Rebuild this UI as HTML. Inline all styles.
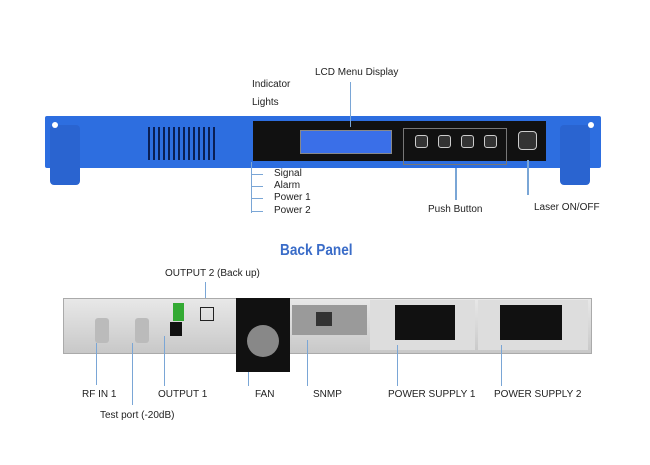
<!DOCTYPE html>
<html><head><style>
body{margin:0;width:650px;height:465px;background:#fff;position:relative;overflow:hidden;font-family:"Liberation Sans",sans-serif;}
.a{position:absolute;}
.t{position:absolute;font-size:10px;color:#222;white-space:nowrap;}
.l{position:absolute;background:#7aa6d6;}
</style></head><body>
<!-- front panel -->
<div class="a" style="left:45px;top:116px;width:556px;height:52px;background:#2d6ee0;border-radius:2px;"></div>
<div class="a" style="left:50px;top:125px;width:30px;height:60px;background:#2a64d0;border-radius:4px;"></div>
<div class="a" style="left:560px;top:125px;width:30px;height:60px;background:#2a64d0;border-radius:4px;"></div>
<div class="a" style="left:52px;top:122px;width:6px;height:6px;background:#fff;border-radius:50%;"></div>
<div class="a" style="left:588px;top:122px;width:6px;height:6px;background:#fff;border-radius:50%;"></div>
<div class="a" style="left:148px;top:127px;width:67px;height:33px;background:repeating-linear-gradient(90deg,#0a1f55 0 2px,#2d6ee0 2px 5px);"></div>
<div class="a" style="left:253px;top:121px;width:293px;height:40px;background:#111;"></div>
<div class="a" style="left:300px;top:130px;width:90px;height:22px;background:#3a6fe8;border:1px solid #888;"></div>
<div class="a" style="left:403px;top:128px;width:102px;height:35px;border:1px solid #777;"></div>
<div class="a" style="left:415px;top:135px;width:11px;height:11px;background:#333;border:1px solid #ccc;border-radius:3px;"></div>
<div class="a" style="left:438px;top:135px;width:11px;height:11px;background:#333;border:1px solid #ccc;border-radius:3px;"></div>
<div class="a" style="left:461px;top:135px;width:11px;height:11px;background:#333;border:1px solid #ccc;border-radius:3px;"></div>
<div class="a" style="left:484px;top:135px;width:11px;height:11px;background:#333;border:1px solid #ccc;border-radius:3px;"></div>
<div class="a" style="left:518px;top:131px;width:17px;height:17px;background:#333;border:1px solid #ccc;border-radius:4px;"></div>
<div class="t" style="left:315px;top:67px;">LCD Menu Display</div>
<div class="t" style="left:252px;top:79px;">Indicator</div>
<div class="t" style="left:252px;top:97px;">Lights</div>
<div class="l" style="left:350px;top:82px;width:1px;height:45px;"></div>
<div class="l" style="left:251px;top:162px;width:1px;height:51px;"></div>
<div class="l" style="left:251px;top:174px;width:12px;height:1px;"></div>
<div class="l" style="left:251px;top:186px;width:12px;height:1px;"></div>
<div class="l" style="left:251px;top:198px;width:12px;height:1px;"></div>
<div class="l" style="left:251px;top:211px;width:12px;height:1px;"></div>
<div class="t" style="left:274px;top:168px;">Signal</div>
<div class="t" style="left:274px;top:180px;">Alarm</div>
<div class="t" style="left:274px;top:192px;">Power 1</div>
<div class="t" style="left:274px;top:205px;">Power 2</div>
<div class="l" style="left:455px;top:168px;width:2px;height:32px;"></div>
<div class="t" style="left:428px;top:204px;">Push Button</div>
<div class="l" style="left:527px;top:160px;width:2px;height:35px;"></div>
<div class="t" style="left:534px;top:202px;">Laser ON/OFF</div>
<!-- back panel -->
<div class="a" style="left:280px;top:242px;font-size:16px;font-weight:bold;color:#3a6cc8;transform:scaleX(0.85);transform-origin:left;">Back Panel</div>
<div class="t" style="left:165px;top:268px;">OUTPUT 2 (Back up)</div>
<div class="l" style="left:205px;top:282px;width:1px;height:22px;"></div>
<div class="a" style="left:63px;top:298px;width:527px;height:54px;background:linear-gradient(#e8e8e8,#c8c8c8);border:1px solid #aaa;"></div>
<div class="a" style="left:95px;top:318px;width:14px;height:25px;background:#bbb;border-radius:3px;"></div>
<div class="a" style="left:135px;top:318px;width:14px;height:25px;background:#bbb;border-radius:3px;"></div>
<div class="a" style="left:173px;top:303px;width:11px;height:18px;background:#3a3;"></div>
<div class="a" style="left:170px;top:322px;width:12px;height:14px;background:#111;"></div>
<div class="a" style="left:200px;top:307px;width:12px;height:12px;border:1px solid #222;"></div>
<div class="a" style="left:236px;top:298px;width:54px;height:74px;background:#111;"></div>
<div class="a" style="left:247px;top:325px;width:32px;height:32px;background:#888;border-radius:50%;"></div>
<div class="a" style="left:292px;top:305px;width:75px;height:30px;background:#9a9a9a;"></div>
<div class="a" style="left:316px;top:312px;width:16px;height:14px;background:#333;"></div>
<div class="a" style="left:370px;top:300px;width:105px;height:50px;background:#ddd;"></div>
<div class="a" style="left:395px;top:305px;width:60px;height:35px;background:#111;"></div>
<div class="a" style="left:478px;top:300px;width:110px;height:50px;background:#ddd;"></div>
<div class="a" style="left:500px;top:305px;width:62px;height:35px;background:#111;"></div>
<div class="l" style="left:96px;top:343px;width:1px;height:42px;"></div>
<div class="l" style="left:132px;top:343px;width:1px;height:62px;"></div>
<div class="l" style="left:164px;top:336px;width:1px;height:50px;"></div>
<div class="l" style="left:248px;top:372px;width:1px;height:14px;"></div>
<div class="l" style="left:307px;top:340px;width:1px;height:46px;"></div>
<div class="l" style="left:397px;top:345px;width:1px;height:41px;"></div>
<div class="l" style="left:501px;top:345px;width:1px;height:41px;"></div>
<div class="t" style="left:82px;top:389px;">RF IN 1</div>
<div class="t" style="left:158px;top:389px;">OUTPUT 1</div>
<div class="t" style="left:255px;top:389px;">FAN</div>
<div class="t" style="left:313px;top:389px;">SNMP</div>
<div class="t" style="left:388px;top:389px;">POWER SUPPLY 1</div>
<div class="t" style="left:494px;top:389px;">POWER SUPPLY 2</div>
<div class="t" style="left:100px;top:410px;">Test port (-20dB)</div>
</body></html>
